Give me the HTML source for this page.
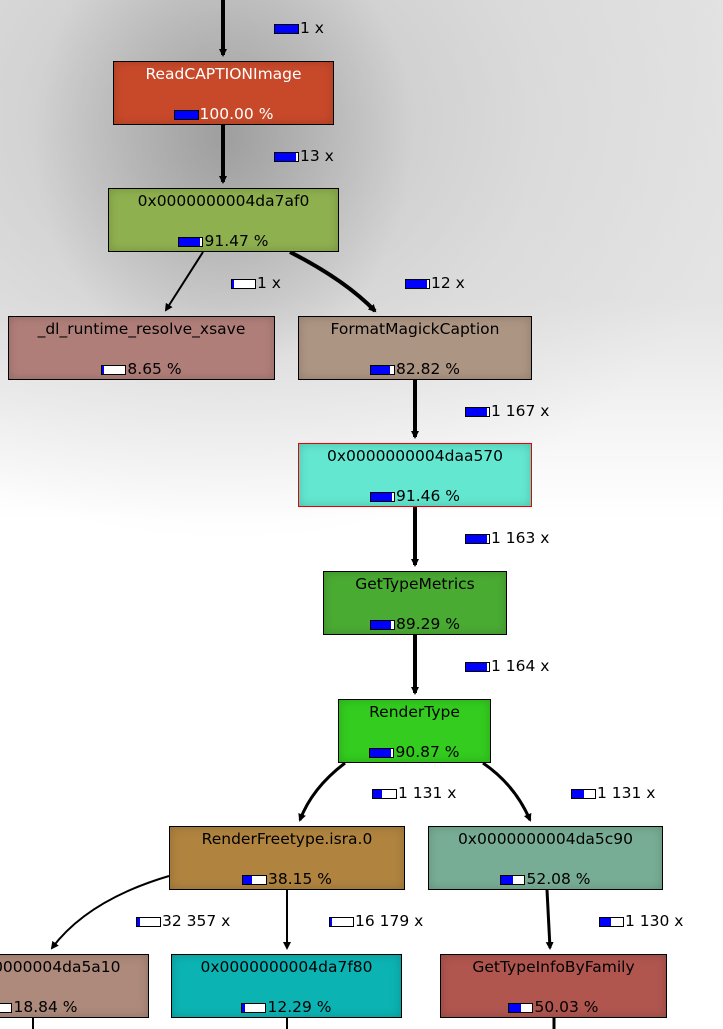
<!DOCTYPE html>
<html><head><meta charset="utf-8"><style>
html,body{margin:0;padding:0}
body{width:723px;height:1029px;position:relative;overflow:hidden;background:#fff;font-family:"DejaVu Sans","Liberation Sans",sans-serif;font-size:15.5px;color:#000}
#bg{position:absolute;left:0;top:0;width:723px;height:1029px;
background:
radial-gradient(ellipse 190px 230px at 223px 140px, rgba(120,120,120,0.5), rgba(120,120,120,0) 100%),
radial-gradient(ellipse 520px 420px at 230px 120px, rgba(170,170,170,0.55), rgba(200,200,200,0.3) 60%, rgba(255,255,255,0) 100%),
linear-gradient(to bottom, #e2e2e2 0px, #e4e4e4 300px, #f4f4f4 420px, #fff 520px);}
.n{position:absolute;box-sizing:border-box;border:1px solid #000;text-align:center;line-height:20px;box-shadow:inset 0 0 10px rgba(0,0,0,0.18)}
.n .t{position:absolute;left:0;right:0;top:2px;white-space:nowrap}
.n .p{position:absolute;left:0;right:0;top:42px;white-space:nowrap}
.b{display:inline-block;width:23px;height:8px;border:1px solid #000;background:#fff;vertical-align:-1px;position:relative;margin-right:1px}
.b i{position:absolute;left:0;top:0;bottom:0;background:#00f}
.l{position:absolute;white-space:nowrap;line-height:20px}
svg{position:absolute;left:0;top:0}
#clip{position:absolute;left:0;top:954px;width:149px;height:64px;overflow:hidden}
</style></head><body>
<div id="bg"></div>
<svg width="723" height="1029">
<defs><marker id="a" markerWidth="8" markerHeight="8" refX="6" refY="4" orient="auto" markerUnits="userSpaceOnUse"><path d="M0,0 L8,4 L0,8 z" fill="#000"/></marker></defs>
<g stroke="#000" fill="none" marker-end="url(#a)">
<path d="M223,0 L223,55" stroke-width="4"/>
<path d="M223,125 L223,182" stroke-width="4"/>
<path d="M203,252 L166,310" stroke-width="2"/>
<path d="M290,252 Q345,280 375,311" stroke-width="4"/>
<path d="M415,380 L415,437" stroke-width="4"/>
<path d="M415,507 L415,565" stroke-width="4"/>
<path d="M415,635 L415,693" stroke-width="4"/>
<path d="M345,763 Q312,788 300,820" stroke-width="3"/>
<path d="M483,763 Q515,785 530,820" stroke-width="3"/>
<path d="M169,876 Q88,900 52,948" stroke-width="2"/>
<path d="M287,890 L287,948" stroke-width="2"/>
<path d="M547,890 L550,948" stroke-width="3"/>
</g>
<g stroke="#000">
<path d="M33,1018 L33,1029" stroke-width="2"/>
<path d="M287,1018 L287,1029" stroke-width="2"/>
<path d="M554,1018 L554,1029" stroke-width="3"/>
</g>
</svg>

<div class="n" style="left:113px;top:61px;width:221px;height:64px;background:#c8492a;color:#fff"><div class="t">ReadCAPTIONImage</div><div class="p"><span class="b"><i style="width:100%"></i></span>100.00 %</div></div>
<div class="n" style="left:108px;top:188px;width:231px;height:64px;background:#8fb04f"><div class="t">0x0000000004da7af0</div><div class="p"><span class="b"><i style="width:91%"></i></span>91.47 %</div></div>
<div class="n" style="left:8px;top:316px;width:267px;height:64px;background:#b07e79"><div class="t">_dl_runtime_resolve_xsave</div><div class="p"><span class="b"><i style="width:9%"></i></span>8.65 %</div></div>
<div class="n" style="left:298px;top:316px;width:234px;height:64px;background:#ad9583"><div class="t">FormatMagickCaption</div><div class="p"><span class="b"><i style="width:83%"></i></span>82.82 %</div></div>
<div class="n" style="left:298px;top:443px;width:234px;height:64px;background:#63e7d0;border-color:#e00"><div class="t">0x0000000004daa570</div><div class="p"><span class="b"><i style="width:91%"></i></span>91.46 %</div></div>
<div class="n" style="left:323px;top:571px;width:184px;height:64px;background:#4aab33"><div class="t">GetTypeMetrics</div><div class="p"><span class="b"><i style="width:89%"></i></span>89.29 %</div></div>
<div class="n" style="left:338px;top:699px;width:153px;height:64px;background:#33cc1f"><div class="t">RenderType</div><div class="p"><span class="b"><i style="width:91%"></i></span>90.87 %</div></div>
<div class="n" style="left:169px;top:826px;width:236px;height:64px;background:#b0843f"><div class="t">RenderFreetype.isra.0</div><div class="p"><span class="b"><i style="width:38%"></i></span>38.15 %</div></div>
<div class="n" style="left:428px;top:826px;width:235px;height:64px;background:#78ad95"><div class="t">0x0000000004da5c90</div><div class="p"><span class="b"><i style="width:52%"></i></span>52.08 %</div></div>
<div id="clip"><div class="n" style="left:-84px;top:0;width:233px;height:64px;background:#ad8a7b"><div class="t">0x0000000004da5a10</div><div class="p"><span class="b"><i style="width:19%"></i></span>18.84 %</div></div></div>
<div class="n" style="left:171px;top:954px;width:231px;height:64px;background:#0cb3b3"><div class="t">0x0000000004da7f80</div><div class="p"><span class="b"><i style="width:12%"></i></span>12.29 %</div></div>
<div class="n" style="left:440px;top:954px;width:227px;height:64px;background:#b0564f"><div class="t">GetTypeInfoByFamily</div><div class="p"><span class="b"><i style="width:50%"></i></span>50.03 %</div></div>

<div class="l" style="left:274px;top:18px"><span class="b"><i style="width:100%"></i></span>1 x</div>
<div class="l" style="left:274px;top:146px"><span class="b"><i style="width:92%"></i></span>13 x</div>
<div class="l" style="left:231px;top:273px"><span class="b"><i style="width:8%"></i></span>1 x</div>
<div class="l" style="left:405px;top:273px"><span class="b"><i style="width:92%"></i></span>12 x</div>
<div class="l" style="left:465px;top:401px"><span class="b"><i style="width:92%"></i></span>1 167 x</div>
<div class="l" style="left:465px;top:528px"><span class="b"><i style="width:92%"></i></span>1 163 x</div>
<div class="l" style="left:465px;top:656px"><span class="b"><i style="width:92%"></i></span>1 164 x</div>
<div class="l" style="left:372px;top:783px"><span class="b"><i style="width:38%"></i></span>1 131 x</div>
<div class="l" style="left:571px;top:783px"><span class="b"><i style="width:50%"></i></span>1 131 x</div>
<div class="l" style="left:136px;top:911px"><span class="b"><i style="width:15%"></i></span>32 357 x</div>
<div class="l" style="left:329px;top:911px"><span class="b"><i style="width:10%"></i></span>16 179 x</div>
<div class="l" style="left:599px;top:911px"><span class="b"><i style="width:48%"></i></span>1 130 x</div>
</body></html>
